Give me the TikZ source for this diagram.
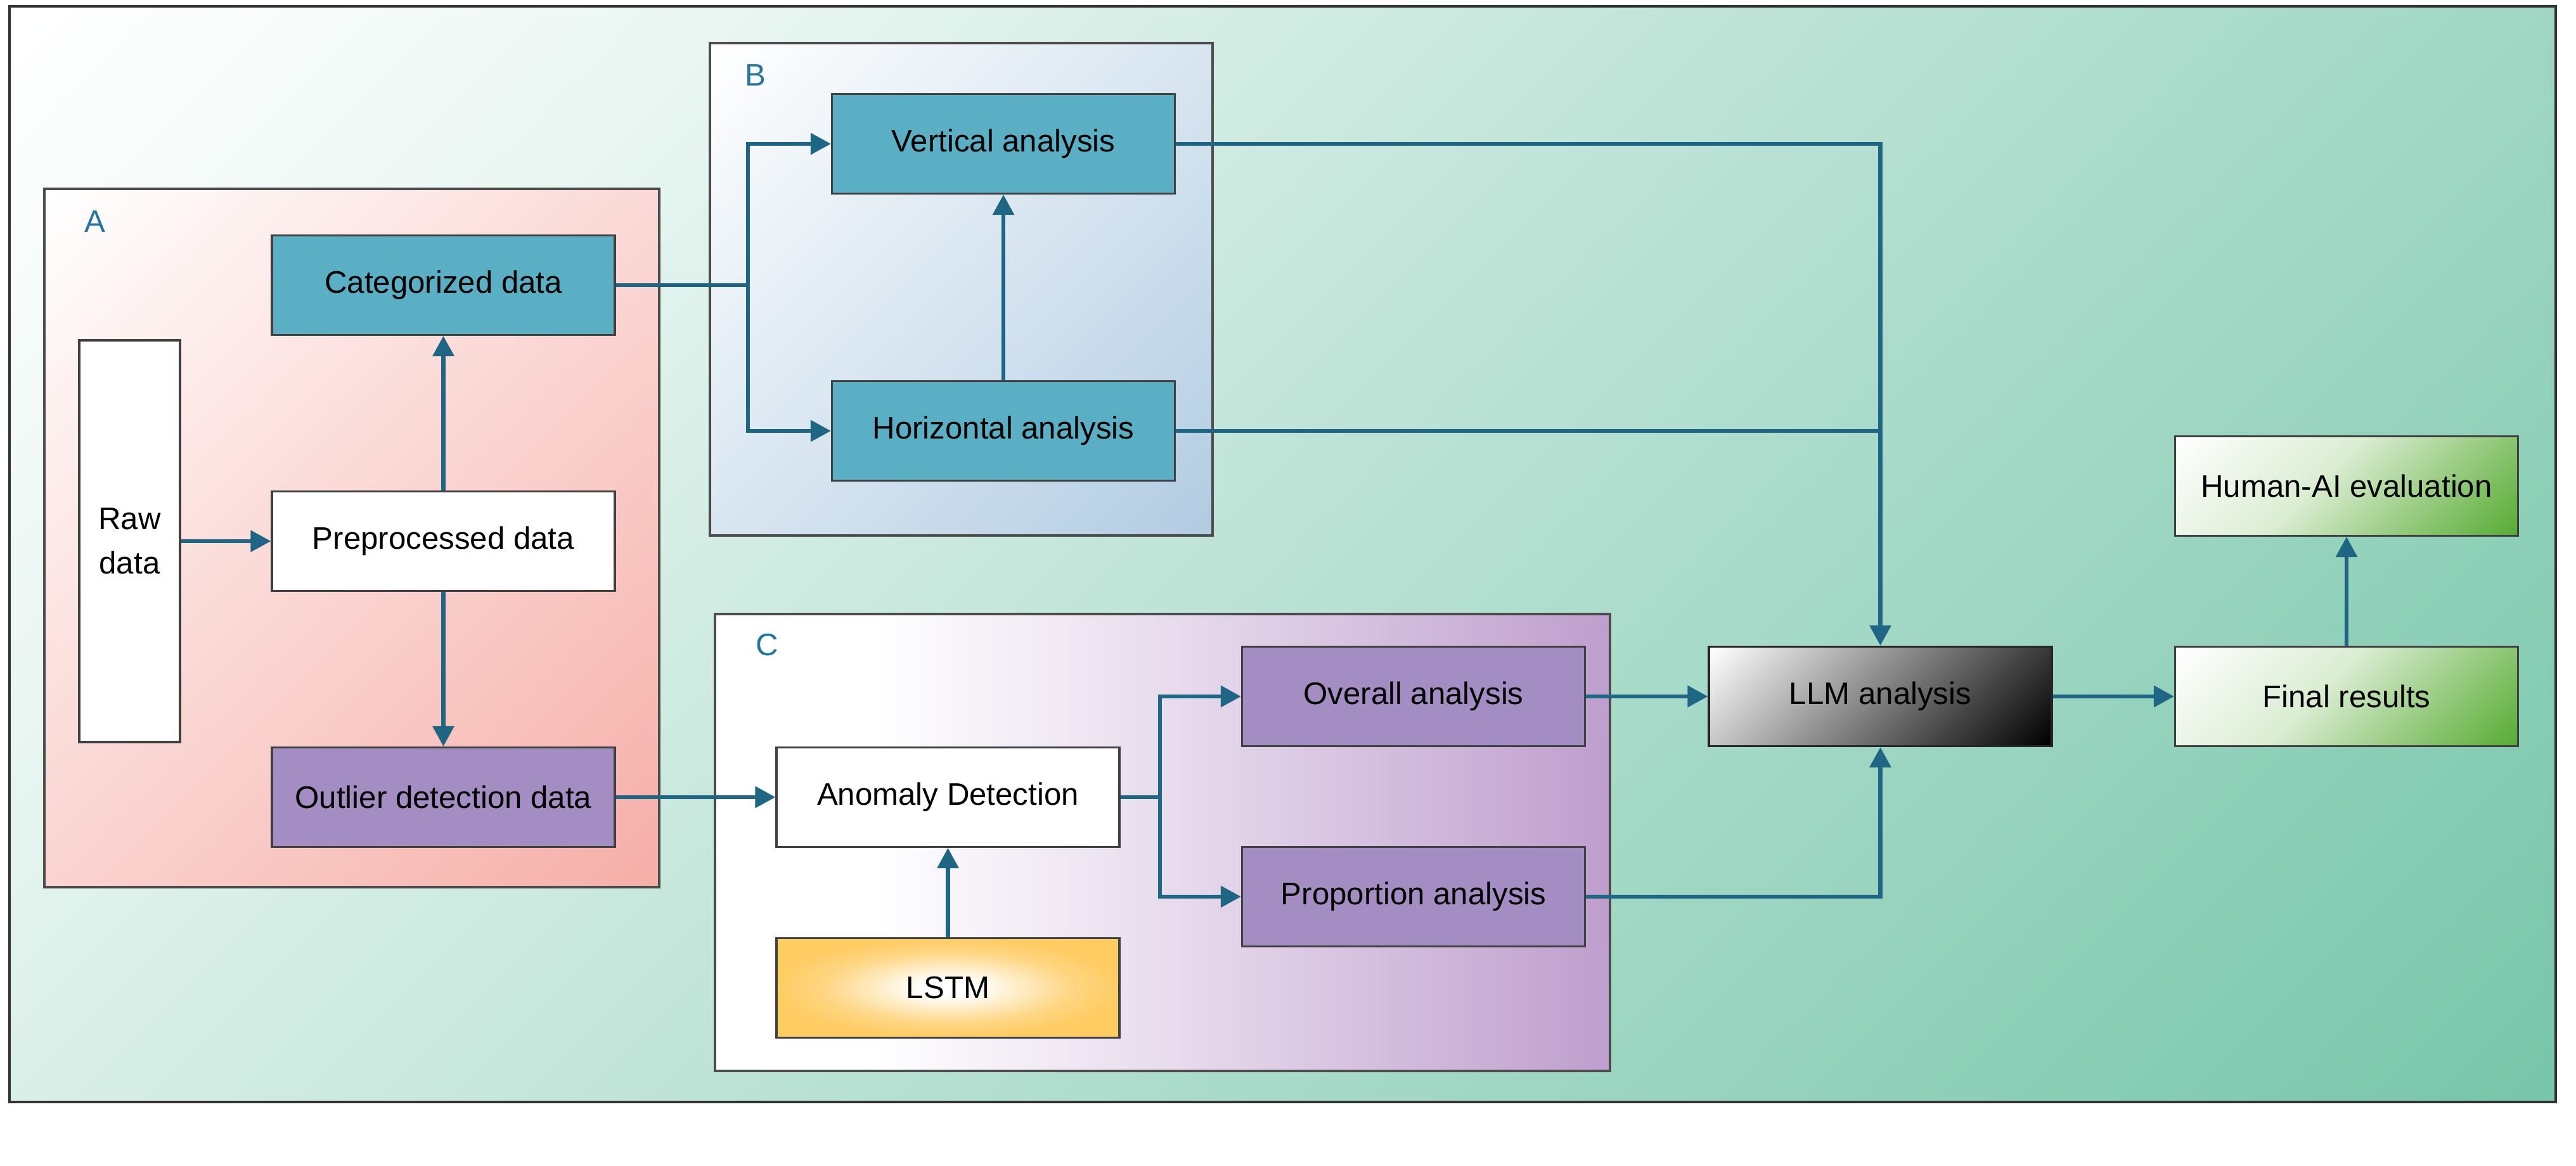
\documentclass[tikz,border=0pt]{standalone}
\usepackage{fontspec}
\setmainfont{Liberation Sans}
\usetikzlibrary{arrows.meta}
\definecolor{linkblue}{RGB}{31,102,133}
\definecolor{labelblue}{RGB}{36,118,160}
\definecolor{bgteal}{RGB}{120,198,171}
\definecolor{groupred}{RGB}{246,174,168}
\definecolor{groupblue}{RGB}{178,204,226}
\definecolor{grouppurple}{RGB}{190,158,205}
\definecolor{cattail}{RGB}{91,175,196}
\definecolor{outpurple}{RGB}{163,141,194}
\definecolor{lstmgold}{RGB}{255,204,100}
\definecolor{resgreen}{RGB}{88,172,52}
\pgfdeclareverticalshading{bgshade}{100bp}{color(0bp)=(bgteal); color(15bp)=(bgteal); color(50bp)=(bgteal!50); color(72bp)=(bgteal!15); color(85bp)=(white); color(100bp)=(white)}
\pgfdeclareverticalshading{redshade}{100bp}{color(0bp)=(groupred); color(15bp)=(groupred); color(85bp)=(white); color(100bp)=(white)}
\pgfdeclareverticalshading{blueshade}{100bp}{color(0bp)=(groupblue); color(15bp)=(groupblue); color(85bp)=(white); color(100bp)=(white)}
\pgfdeclareverticalshading{llmshade}{100bp}{color(0bp)=(black); color(15bp)=(black); color(85bp)=(white); color(100bp)=(white)}
\pgfdeclareverticalshading{greenshade}{100bp}{color(0bp)=(resgreen); color(15bp)=(resgreen); color(35bp)=(resgreen!62); color(55bp)=(resgreen!22); color(85bp)=(white); color(100bp)=(white)}
\pgfdeclarehorizontalshading{purpleshade}{100bp}{color(0bp)=(white); color(34bp)=(white); color(52bp)=(grouppurple!40); color(75bp)=(grouppurple); color(100bp)=(grouppurple)}
\pgfdeclareradialshading{lstmshade}{\pgfpoint{0bp}{0bp}}{color(0bp)=(white); color(4bp)=(white); color(18bp)=(lstmgold!80); color(25bp)=(lstmgold); color(50bp)=(lstmgold)}

\begin{document}
\begin{tikzpicture}[
    box/.style={draw=black!75,line width=0.9pt,minimum width=5.41cm,minimum height=1.57cm,
        inner sep=0pt,align=center,font=\fontsize{14}{20}\selectfont},
    groupbox/.style={draw=black!70,line width=0.9pt},
    grouplabel/.style={text=labelblue,font=\fontsize{14}{17}\selectfont},
    link/.style={linkblue,line width=1.8pt},
    arr/.style={link,-{Triangle[length=0.32cm,width=0.33cm]}}]
    \useasboundingbox (0,0) rectangle (40.64,18.40);
    \draw[black!80,line width=1pt,shading=bgshade,shading angle=45] (0.15,1.01) rectangle (40.32,18.30);
    % groups
    \draw[groupbox,shading=redshade,shading angle=45] (0.70,4.40) rectangle (10.40,15.42);
    \draw[groupbox,shading=blueshade,shading angle=45] (11.20,9.95) rectangle (19.13,17.72);
    \draw[groupbox,shading=purpleshade] (11.28,1.50) rectangle (25.40,8.71);
    \node[grouplabel] (labA) at (1.50,14.90) {A};
    \node[grouplabel] (labB) at (11.92,17.21) {B};
    \node[grouplabel] (labC) at (12.10,8.22) {C};
    % boxes
    \node[box,fill=white,minimum width=1.59cm,minimum height=6.34cm] (raw) at (2.045,9.86) {Raw\\data};
    \node[box,fill=white] (pre) at (6.995,9.86) {Preprocessed data};
    \node[box,fill=cattail] (cat) at (6.995,13.90) {Categorized data};
    \node[box,fill=outpurple] (out) at (6.995,5.82) {Outlier detection data};
    \node[box,fill=cattail] (vert) at (15.83,16.13) {Vertical analysis};
    \node[box,fill=cattail] (hori) at (15.83,11.60) {Horizontal analysis};
    \node[box,fill=white] (anom) at (14.955,5.82) {Anomaly Detection};
    \node[box,shading=lstmshade] (lstm) at (14.955,2.81) {LSTM};
    \node[box,fill=outpurple] (over) at (22.30,7.41) {Overall analysis};
    \node[box,fill=outpurple] (prop) at (22.30,4.25) {Proportion analysis};
    \node[box,draw=black!85,shading=llmshade,shading angle=45] (llm) at (29.665,7.41) {LLM analysis};
    \node[box,shading=greenshade,shading angle=45] (final) at (37.02,7.41) {Final results};
    \node[box,shading=greenshade,shading angle=45] (human) at (37.02,10.73) {Human-AI evaluation};
    % junctions
    \coordinate (jB) at (11.80,13.90);
    \coordinate (jC) at (18.30,5.82);
    \coordinate (jL) at (llm.north |- hori.east);
    % connectors
    \draw[arr] (raw.east) -- (pre.west);
    \draw[arr] (pre.north) -- (cat.south);
    \draw[arr] (pre.south) -- (out.north);
    \draw[link] (cat.east) -- (jB);
    \draw[arr] (jB) |- (vert.west);
    \draw[arr] (jB) |- (hori.west);
    \draw[arr] (hori.north) -- (vert.south);
    \draw[arr] (vert.east) -| (llm.north);
    \draw[link] (hori.east) -- (jL);
    \draw[arr] (out.east) -- (anom.west);
    \draw[arr] (lstm.north) -- (anom.south);
    \draw[link] (anom.east) -- (jC);
    \draw[arr] (jC) |- (over.west);
    \draw[arr] (jC) |- (prop.west);
    \draw[arr] (over.east) -- (llm.west);
    \draw[arr] (prop.east) -| (llm.south);
    \draw[arr] (llm.east) -- (final.west);
    \draw[arr] (final.north) -- (human.south);
\end{tikzpicture}
\end{document}
